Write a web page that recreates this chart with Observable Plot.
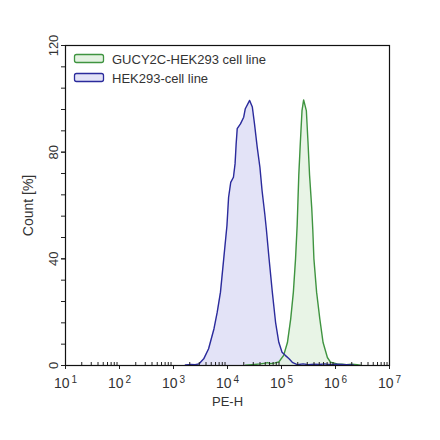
<!DOCTYPE html>
<html>
<head>
<meta charset="utf-8">
<script src="https://cdn.jsdelivr.net/npm/d3@7"></script>
<script src="https://cdn.jsdelivr.net/npm/@observablehq/plot@0.6"></script>
<style>
  body { margin: 0; background: #fff; }
  #chart { position: relative; width: 440px; height: 440px; }
  svg { font-family: "Liberation Sans", Arial, sans-serif; }
</style>
</head>
<body>
<div id="chart"></div>
<script>
// Series: x as log10(PE-H), y as Count [%]
const seriesNames = ["GUCY2C-HEK293 cell line", "HEK293-cell line"];
const blueExp = [3.22,3.32,3.40,3.47,3.56,3.65,3.75,3.81,3.87,3.93,3.99,4.02,4.06,4.11,4.14,4.16,4.18,4.24,4.30,4.33,4.41,4.46,4.50,4.55,4.60,4.64,4.69,4.72,4.77,4.83,4.89,4.95,5.01,5.07,5.14,5.20,5.29,5.40,5.50,5.60,5.70,5.80,5.90,6.00,6.10,6.20,6.33];
const blueCount = [0.2,0.4,0.3,0.6,2.5,6.3,13.8,20,27.5,40,52.5,63,68.7,70.6,75.6,83,88.8,90.6,93.1,96.3,99.4,96.9,90.6,81.9,74.4,65.6,56.9,51,40,27.5,16.2,8.7,5.0,3.8,2.5,1.2,0.3,0.6,0.3,0.5,0.4,0.6,0.3,0.5,0.4,0.3,0.2];
const greenExp = [4.33,4.45,4.61,4.70,4.74,4.80,4.88,4.95,5.04,5.11,5.17,5.22,5.26,5.29,5.32,5.35,5.38,5.41,5.46,5.49,5.52,5.56,5.58,5.60,5.65,5.71,5.77,5.85,5.91,6.03,6.12,6.20,6.30,6.40,6.46];
const greenCount = [0.1,0.3,0.6,0.9,1.1,0.7,1.0,1.3,3.8,8.6,17.4,27.5,40,52.5,71.3,84,95.6,99.6,95.6,84,71.3,59,50.6,40,27.5,17.4,8.6,3.0,1.2,0.6,0.5,0.3,0.5,0.3,0.1];
const xMajorTicks = [1e1,1e2,1e3,1e4,1e5,1e6,1e7];
const yMajorTicks = [0,40,80,120];
const yMinorTicks = d3.range(0, 121, 8);

const blue = blueExp.map((e, i) => ({x: 10 ** e, y: blueCount[i]}));
const green = greenExp.map((e, i) => ({x: 10 ** e, y: greenCount[i]}));
const xMinorTicks = [];
for (let p = 1; p < 7; p++) for (let k = 2; k <= 9; k++) xMinorTicks.push(k * 10 ** p);

const colors = {green: "#3f9440", greenFill: "#e4f2e2", blue: "#2b2b9c", blueFill: "#e3e3f7"};

const plot = Plot.plot({
  width: 440, height: 440,
  marginLeft: 65, marginRight: 51, marginTop: 45, marginBottom: 75,
  style: {fontFamily: "'Liberation Sans', Arial, sans-serif", fontSize: "13px", color: "#333"},
  x: {type: "log", domain: [10, 1e7]},
  y: {domain: [0, 120]},
  marks: [
    Plot.areaY(blue, {x: "x", y: "y", fill: colors.blueFill}),
    Plot.areaY(green, {x: "x", y: "y", fill: colors.greenFill, fillOpacity: 0.85}),
    Plot.line(green, {x: "x", y: "y", stroke: colors.green, strokeWidth: 1.4}),
    Plot.line(blue, {x: "x", y: "y", stroke: colors.blue, strokeWidth: 1.4}),
    Plot.axisX({ticks: xMinorTicks, tickSize: -3, tickFormat: () => "", label: null, stroke: "#222"}),
    Plot.axisX({ticks: xMajorTicks, tickFormat: d => String(Math.round(Math.log10(d))),
      tickSize: 4, tickPadding: 9, label: null, stroke: "#222"}),
    Plot.axisX({ticks: [], label: "PE-H", labelAnchor: "center", labelArrow: "none", labelOffset: 40}),
    Plot.axisY({ticks: yMinorTicks, tickSize: 4, tickFormat: () => "", label: null, stroke: "#222"}),
    Plot.axisY({ticks: yMajorTicks, tickSize: 4, tickRotate: -90, tickPadding: 4, label: null, stroke: "#222"}),
    Plot.axisY({ticks: [], label: "Count [%]", labelAnchor: "center", labelArrow: "none", labelOffset: 42}),
    Plot.frame({stroke: "#111", strokeWidth: 1.2})
  ]
});
document.getElementById("chart").appendChild(plot);

const svg = d3.select(plot);

// Power-of-ten tick labels: "10" with a raised exponent
svg.selectAll('g[aria-label="x-axis tick label"] text').each(function() {
  const t = d3.select(this);
  const exp = t.text().trim();
  if (!exp) { t.remove(); return; }
  t.text(null)
    .style("font-family", "'Liberation Sans Narrow', 'Liberation Sans', Arial, sans-serif")
    .attr("font-size", 14);
  t.append("tspan").text("10");
  t.append("tspan").attr("dx", 2).attr("dy", -5).attr("font-size", 10).text(exp);
});
svg.selectAll('g[aria-label="y-axis tick label"] text').each(function() {
  const t = d3.select(this);
  if (!t.text().trim()) t.remove();
});

// "Count [%]" label a bit larger, like the reference
svg.selectAll('g[aria-label="y-axis label"] text').attr("font-size", 14);

// Legend inside the frame, top-left
const legend = [
  {name: seriesNames[0], stroke: colors.green, fill: colors.greenFill},
  {name: seriesNames[1], stroke: colors.blue, fill: colors.blueFill}
];
const lg = svg.append("g").attr("transform", "translate(74,54)");
legend.forEach((d, i) => {
  const g = lg.append("g").attr("transform", `translate(0,${i * 19})`);
  g.append("rect").attr("x", 0.5).attr("y", 0.5).attr("width", 29).attr("height", 8).attr("rx", 2)
    .attr("fill", d.fill).attr("stroke", d.stroke).attr("stroke-width", 1.3);
  g.append("text").attr("x", 38).attr("y", 9.5).attr("font-size", 13).attr("text-anchor", "start")
    .attr("fill", "#333").text(d.name);
});
</script>
</body>
</html>
